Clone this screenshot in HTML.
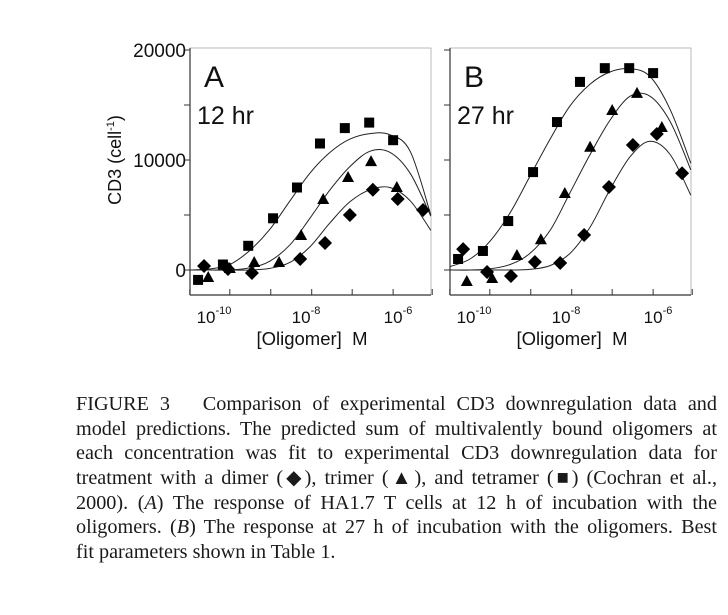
<!DOCTYPE html>
<html><head><meta charset="utf-8"><style>
html,body{margin:0;padding:0;background:#fff;width:728px;height:615px;overflow:hidden}
#cap{position:absolute;left:76px;top:392px;width:641px;font-family:"Liberation Serif",serif;font-size:20.2px;color:#1a1a1a}
#cap div{height:24.7px;line-height:24.7px;text-align:justify;text-align-last:justify;white-space:nowrap}
#cap div.last{text-align-last:left}
</style></head><body>
<svg id="chart" width="728" height="380" style="position:absolute;left:0;top:0" font-family="Liberation Sans, sans-serif"></svg>
<div id="cap">
<div>FIGURE 3 &nbsp; Comparison of experimental CD3 downregulation data and</div>
<div>model predictions. The predicted sum of multivalently bound oligomers at</div>
<div>each concentration was fit to experimental CD3 downregulation data for</div>
<div>treatment with a dimer (◆), trimer (▲), and tetramer (■) (Cochran et al.,</div>
<div>2000). (<i>A</i>) The response of HA1.7 T cells at 12 h of incubation with the</div>
<div>oligomers. (<i>B</i>) The response at 27 h of incubation with the oligomers. Best</div>
<div class="last">fit parameters shown in Table 1.</div>
</div>
<script>
// x positions are log10 concentration
const ptLogs = [-10.52,-9.98,-9.43,-8.89,-8.37,-7.87,-7.33,-6.80,-6.28,-5.74];
const aSquares = [-900,500,2200,4700,7500,11500,12900,13400,11800];
const aTriLogs = [-10.3,-9.83,-9.3,-8.76,-8.28,-7.80,-7.26,-6.76,-6.20];
const aTriangles = [-640,180,730,730,3180,6450,8450,9900,7550];
const aDiaLogs = [-10.39,-9.87,-9.35,-8.30,-7.76,-7.22,-6.72,-6.18,-5.63];
const aDiamonds = [360,90,-270,1000,2450,5000,7300,6450,5450];
const bSquares = [1000,1730,4450,8900,13450,17100,18350,18350,17900];
const bTriLogs = [-10.33,-9.78,-9.24,-8.72,-8.20,-7.65,-7.17,-6.63,-6.09];
const bTriangles = [-1000,-730,1360,2800,7000,11200,14550,16100,13000];
const bDiaLogs = [-10.41,-9.89,-9.37,-8.85,-8.30,-7.78,-7.24,-6.72,-6.20,-5.65];
const bDiamonds = [1900,-180,-550,730,640,3180,7550,11360,12360,8800];
const curveLogs = [-10.70,-10.26,-9.83,-9.39,-8.96,-8.52,-8.09,-7.65,-7.22,-6.78,-6.35,-5.91,-5.46];
const aSqCurve = [0,100,500,1800,3700,6300,8800,10700,11900,12400,12300,10800,5000];
const aTrCurve = [0,0,0,200,800,2300,4700,7300,9400,10800,10700,8800,4900];
const aDiCurve = [0,0,0,0,150,700,2100,4300,6200,7300,7500,6300,3600];
const bSqCurve = [300,1000,2600,5200,8500,11900,14900,16900,18000,18300,17600,14600,9700];
const bTrCurve = [0,0,100,500,1500,3600,7000,10500,13600,15800,15800,13500,9100];
const bDiCurve = [0,0,0,0,50,400,1500,3900,7300,10300,11700,10500,6800];
const yTickVals = [0,5000,10000,15000,20000];
const yLabelVals = [0,10000,20000];
const xLabelExps = [-10,-8,-6];
const xTickLogs = [-10.70,-9.83,-8.94,-8.05,-7.17,-6.28,-5.43];

const NS='http://www.w3.org/2000/svg';
const svg=document.getElementById('chart');
function mk(tag,attrs,parent){const e=document.createElementNS(NS,tag);for(const k in attrs)e.setAttribute(k,attrs[k]);(parent||svg).appendChild(e);return e;}
const yScale=v=>270-v*0.011;
function xScaleFor(off){return l=>off+222+(l+10)*46;}
function smooth(pts){let d='M'+pts[0][0]+','+pts[0][1];for(let i=0;i<pts.length-1;i++){const p0=pts[i-1]||pts[i],p1=pts[i],p2=pts[i+1],p3=pts[i+2]||p2;
const c1=[p1[0]+(p2[0]-p0[0])/6,p1[1]+(p2[1]-p0[1])/6],c2=[p2[0]-(p3[0]-p1[0])/6,p2[1]-(p3[1]-p1[1])/6];
d+=' C'+c1[0].toFixed(1)+','+c1[1].toFixed(1)+' '+c2[0].toFixed(1)+','+c2[1].toFixed(1)+' '+p2[0].toFixed(1)+','+p2[1].toFixed(1);}return d;}

function panel(off,name,letter,hr,sq,trL,tr,diL,di,curves,leftLabels){
  const g=mk('g',{});
  
  
  const xs=xScaleFor(off);
  const L=190+off,R=431+off,T=48,B=295;
  const frame=mk('rect',{x:L,y:T,width:R-L,height:B-T,fill:'none',stroke:'#aaa','stroke-width':0.8},g);
  
  
  mk('line',{x1:L,y1:T,x2:L,y2:B,stroke:'#333','stroke-width':1.2},g);
  mk('line',{x1:L,y1:B,x2:R,y2:B,stroke:'#333','stroke-width':1.2},g);
  yTickVals.forEach(v=>{const t=mk('line',{x1:L-6,y1:yScale(v),x2:L,y2:yScale(v),stroke:'#333','stroke-width':1},g);
    });
  xTickLogs.forEach(l=>{const t=mk('line',{x1:xs(l),y1:B-6,x2:xs(l),y2:B,stroke:'#333','stroke-width':1},g);
    });
  if(leftLabels){yLabelVals.forEach(v=>{const t=mk('text',{x:L-4,y:yScale(v)+7,'font-size':19,'text-anchor':'end',fill:'#111'},g);
    t.textContent=String(v);});}
  xLabelExps.forEach(e=>{const t=mk('text',{x:xs(e)-8,y:323,'font-size':17,'text-anchor':'middle',fill:'#111'},g);
    t.textContent='10';const s=mk('tspan',{dy:-9,'font-size':11},t);s.textContent=String(e);
    });
  const xl=mk('text',{x:off+312,y:345,'font-size':18.5,'text-anchor':'middle',fill:'#111',style:'white-space:pre'},g);
  xl.textContent='[Oligomer]  M';
  
  const pl=mk('text',{x:L+14,y:87,'font-size':30,fill:'#111'},g);pl.textContent=letter;
  
  const hl=mk('text',{x:L+7,y:124,'font-size':25,fill:'#111'},g);hl.textContent=hr;
  
  curves.forEach(c=>{const p=mk('path',{d:smooth(curveLogs.map((l,i)=>[xs(l),yScale(c[i])])),fill:'none',stroke:'#222','stroke-width':1},g);
    });
  sq.forEach((v,i)=>{const r=mk('rect',{x:xs(ptLogs[i])-5,y:yScale(v)-5,width:10,height:10,fill:'#000'},g);
    });
  tr.forEach((v,i)=>{const x=xs(trL[i]),y=yScale(v);const p=mk('polygon',{points:`${x},${y-6} ${x+6},${y+5} ${x-6},${y+5}`,fill:'#000'},g);
    });
  di.forEach((v,i)=>{const x=xs(diL[i]),y=yScale(v);const p=mk('polygon',{points:`${x},${y-7} ${x+7},${y} ${x},${y+7} ${x-7},${y}`,fill:'#000'},g);
    });
}
panel(0,'panel-a','A','12 hr',aSquares,aTriLogs,aTriangles,aDiaLogs,aDiamonds,[aSqCurve,aTrCurve,aDiCurve],true);
panel(260,'panel-b','B','27 hr',bSquares,bTriLogs,bTriangles,bDiaLogs,bDiamonds,[bSqCurve,bTrCurve,bDiCurve],false);
const yt=mk('text',{x:0,y:0,'font-size':18,'text-anchor':'middle',fill:'#111',transform:'translate(121,160) rotate(-90)'});
yt.textContent='CD3 (cell';const sup=mk('tspan',{dy:-7,'font-size':11},yt);sup.textContent='-1';
const cl=mk('tspan',{dy:7},yt);cl.textContent=')';


</script>
</body></html>
